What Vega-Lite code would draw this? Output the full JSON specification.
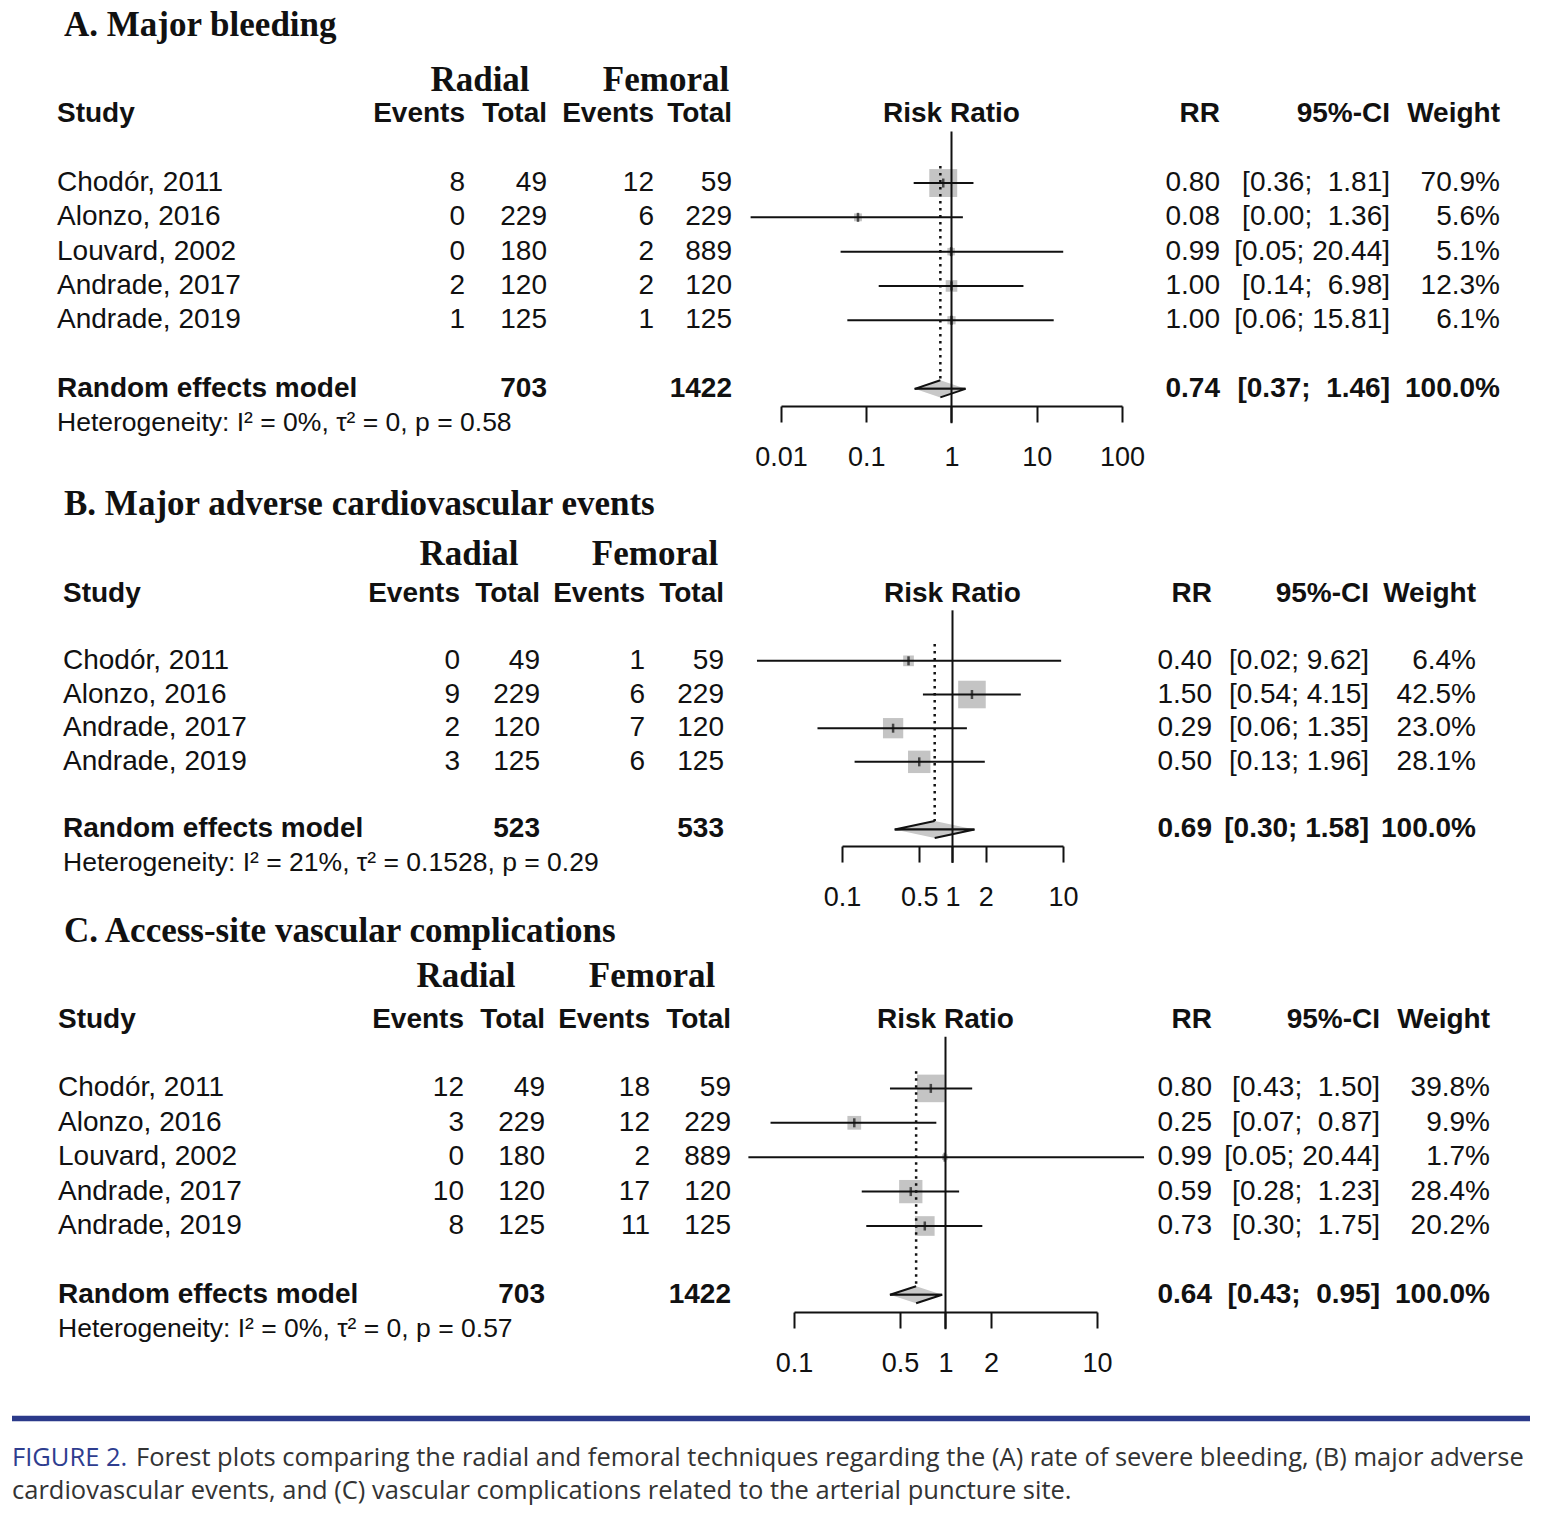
{
"$schema": "https://vega.github.io/schema/vega-lite/v6.json",
"background": "white",
"padding": {"left": 0, "top": 8, "right": 0, "bottom": 0},
"config": {
  "view": {"stroke": null},
  "text": {"font": "Liberation Sans", "fontSize": 28, "color": "#111"},
  "title": {"font": "Liberation Serif", "fontSize": 35, "fontWeight": "bold", "color": "#111", "anchor": "start"},
  "axisX": {"domainColor": "#111", "domainWidth": 2, "tickColor": "#111", "tickWidth": 2, "tickSize": 16, "labelFont": "Liberation Sans", "labelFontSize": 27, "labelColor": "#111", "labelPadding": 22, "grid": false, "labelOverlap": false, "labelFlush": false, "labelBound": false}
},
"datasets": {
  "bleed": [
    {"line": "Chodór, 2011", "ev_r": 8, "n_r": 49, "ev_f": 12, "n_f": 59, "rr": 0.80, "lo": 0.36, "hi": 1.81, "w": 0.709},
    {"line": "Alonzo, 2016", "ev_r": 0, "n_r": 229, "ev_f": 6, "n_f": 229, "rr": 0.08, "lo": 0.0044, "hi": 1.36, "w": 0.056},
    {"line": "Louvard, 2002", "ev_r": 0, "n_r": 180, "ev_f": 2, "n_f": 889, "rr": 0.99, "lo": 0.05, "hi": 20.44, "w": 0.051},
    {"line": "Andrade, 2017", "ev_r": 2, "n_r": 120, "ev_f": 2, "n_f": 120, "rr": 1.00, "lo": 0.14, "hi": 6.98, "w": 0.123},
    {"line": "Andrade, 2019", "ev_r": 1, "n_r": 125, "ev_f": 1, "n_f": 125, "rr": 1.00, "lo": 0.06, "hi": 15.81, "w": 0.061}
  ],
  "bleed_re": [{"line": "Random effects model", "n_r": 703, "n_f": 1422, "rr": 0.74, "lo": 0.37, "hi": 1.46, "w": 1.0}],
  "mace": [
    {"line": "Chodór, 2011", "ev_r": 0, "n_r": 49, "ev_f": 1, "n_f": 59, "rr": 0.40, "lo": 0.017, "hi": 9.62, "w": 0.064},
    {"line": "Alonzo, 2016", "ev_r": 9, "n_r": 229, "ev_f": 6, "n_f": 229, "rr": 1.50, "lo": 0.54, "hi": 4.15, "w": 0.425},
    {"line": "Andrade, 2017", "ev_r": 2, "n_r": 120, "ev_f": 7, "n_f": 120, "rr": 0.29, "lo": 0.06, "hi": 1.35, "w": 0.230},
    {"line": "Andrade, 2019", "ev_r": 3, "n_r": 125, "ev_f": 6, "n_f": 125, "rr": 0.50, "lo": 0.13, "hi": 1.96, "w": 0.281}
  ],
  "mace_re": [{"line": "Random effects model", "n_r": 523, "n_f": 533, "rr": 0.69, "lo": 0.30, "hi": 1.58, "w": 1.0}],
  "site": [
    {"line": "Chodór, 2011", "ev_r": 12, "n_r": 49, "ev_f": 18, "n_f": 59, "rr": 0.80, "lo": 0.43, "hi": 1.50, "w": 0.398},
    {"line": "Alonzo, 2016", "ev_r": 3, "n_r": 229, "ev_f": 12, "n_f": 229, "rr": 0.25, "lo": 0.07, "hi": 0.87, "w": 0.099},
    {"line": "Louvard, 2002", "ev_r": 0, "n_r": 180, "ev_f": 2, "n_f": 889, "rr": 0.99, "lo": 0.05, "hi": 20.44, "w": 0.017},
    {"line": "Andrade, 2017", "ev_r": 10, "n_r": 120, "ev_f": 17, "n_f": 120, "rr": 0.59, "lo": 0.28, "hi": 1.23, "w": 0.284},
    {"line": "Andrade, 2019", "ev_r": 8, "n_r": 125, "ev_f": 11, "n_f": 125, "rr": 0.73, "lo": 0.30, "hi": 1.75, "w": 0.202}
  ],
  "site_re": [{"line": "Random effects model", "n_r": 703, "n_f": 1422, "rr": 0.64, "lo": 0.43, "hi": 0.95, "w": 1.0}]
},
"resolve": {"scale": {"x": "independent", "y": "independent", "size": "independent"}},
"spacing": 16,
"vconcat": [
{
  "title": {"text": "A. Major bleeding", "anchor": "start", "dx": 64, "offset": 20},
  "spacing": 0, "bounds": "flush",
  "resolve": {"scale": {"x": "independent", "y": "independent", "size": "independent"}},
  "hconcat": [
    {"width": 57, "height": 377.3, "data": {"values": []}, "mark": "point"},
    {"width": 313, "height": 377.3,
     "encoding": {"y": {"field": "line", "type": "nominal", "axis": null, "scale": {"domain": ["group","head","blank","Chodór, 2011","Alonzo, 2016","Louvard, 2002","Andrade, 2017","Andrade, 2019","gap","Random effects model","het"], "paddingInner": 0, "paddingOuter": 0}}, "x": {"value": 0}},
     "layer": [
       {"data": {"values": [{"line": "head", "t": "Study"}]}, "mark": {"type": "text", "align": "left", "fontWeight": "bold"}, "encoding": {"text": {"field": "t", "type": "nominal"}}},
       {"data": {"name": "bleed"}, "mark": {"type": "text", "align": "left"}, "encoding": {"text": {"field": "line", "type": "nominal"}}},
       {"data": {"name": "bleed_re"}, "mark": {"type": "text", "align": "left", "fontWeight": "bold"}, "encoding": {"text": {"field": "line", "type": "nominal"}}},
       {"data": {"values": [{"line": "het", "t": "Heterogeneity: I² = 0%, τ² = 0, p = 0.58"}]}, "mark": {"type": "text", "align": "left", "fontSize": 26.5}, "encoding": {"text": {"field": "t", "type": "nominal"}}}
     ]},
    {"width": 95, "height": 377.3,
     "encoding": {"y": {"field": "line", "type": "nominal", "axis": null, "scale": {"domain": ["group","head","blank","Chodór, 2011","Alonzo, 2016","Louvard, 2002","Andrade, 2017","Andrade, 2019","gap","Random effects model","het"], "paddingInner": 0, "paddingOuter": 0}}, "x": {"value": "width"}},
     "layer": [
       {"data": {"values": [{"line": "head", "t": "Events"}]}, "mark": {"type": "text", "align": "right", "fontWeight": "bold"}, "encoding": {"text": {"field": "t", "type": "nominal"}}},
       {"data": {"name": "bleed"}, "mark": {"type": "text", "align": "right"}, "encoding": {"text": {"field": "ev_r", "type": "quantitative", "format": "d"}}}
     ]},
    {"width": 82, "height": 377.3,
     "encoding": {"y": {"field": "line", "type": "nominal", "axis": null, "scale": {"domain": ["group","head","blank","Chodór, 2011","Alonzo, 2016","Louvard, 2002","Andrade, 2017","Andrade, 2019","gap","Random effects model","het"], "paddingInner": 0, "paddingOuter": 0}}, "x": {"value": "width"}},
     "layer": [
       {"data": {"values": [{"line": "group", "t": "Radial"}]}, "mark": {"type": "text", "align": "center", "font": "Liberation Serif", "fontSize": 35, "fontWeight": "bold", "dx": 15}, "encoding": {"x": {"value": 0}, "text": {"field": "t", "type": "nominal"}}},
       {"data": {"values": [{"line": "head", "t": "Total"}]}, "mark": {"type": "text", "align": "right", "fontWeight": "bold"}, "encoding": {"text": {"field": "t", "type": "nominal"}}},
       {"data": {"name": "bleed"}, "mark": {"type": "text", "align": "right"}, "encoding": {"text": {"field": "n_r", "type": "quantitative", "format": "d"}}},
       {"data": {"name": "bleed_re"}, "mark": {"type": "text", "align": "right", "fontWeight": "bold"}, "encoding": {"text": {"field": "n_r", "type": "quantitative", "format": "d"}}}
     ]},
    {"width": 107, "height": 377.3,
     "encoding": {"y": {"field": "line", "type": "nominal", "axis": null, "scale": {"domain": ["group","head","blank","Chodór, 2011","Alonzo, 2016","Louvard, 2002","Andrade, 2017","Andrade, 2019","gap","Random effects model","het"], "paddingInner": 0, "paddingOuter": 0}}, "x": {"value": "width"}},
     "layer": [
       {"data": {"values": [{"line": "head", "t": "Events"}]}, "mark": {"type": "text", "align": "right", "fontWeight": "bold"}, "encoding": {"text": {"field": "t", "type": "nominal"}}},
       {"data": {"name": "bleed"}, "mark": {"type": "text", "align": "right"}, "encoding": {"text": {"field": "ev_f", "type": "quantitative", "format": "d"}}}
     ]},
    {"width": 78, "height": 377.3,
     "encoding": {"y": {"field": "line", "type": "nominal", "axis": null, "scale": {"domain": ["group","head","blank","Chodór, 2011","Alonzo, 2016","Louvard, 2002","Andrade, 2017","Andrade, 2019","gap","Random effects model","het"], "paddingInner": 0, "paddingOuter": 0}}, "x": {"value": "width"}},
     "layer": [
       {"data": {"values": [{"line": "group", "t": "Femoral"}]}, "mark": {"type": "text", "align": "center", "font": "Liberation Serif", "fontSize": 35, "fontWeight": "bold", "dx": 12}, "encoding": {"x": {"value": 0}, "text": {"field": "t", "type": "nominal"}}},
       {"data": {"values": [{"line": "head", "t": "Total"}]}, "mark": {"type": "text", "align": "right", "fontWeight": "bold"}, "encoding": {"text": {"field": "t", "type": "nominal"}}},
       {"data": {"name": "bleed"}, "mark": {"type": "text", "align": "right"}, "encoding": {"text": {"field": "n_f", "type": "quantitative", "format": "d"}}},
       {"data": {"name": "bleed_re"}, "mark": {"type": "text", "align": "right", "fontWeight": "bold"}, "encoding": {"text": {"field": "n_f", "type": "quantitative", "format": "d"}}}
     ]},
    {"width": 49, "height": 377.3, "data": {"values": []}, "mark": "point"},
    {"width": 341, "height": 377.3,
     "encoding": {"y": {"field": "line", "type": "nominal", "axis": null, "scale": {"domain": ["group","head","blank","Chodór, 2011","Alonzo, 2016","Louvard, 2002","Andrade, 2017","Andrade, 2019","gap","Random effects model","het"], "paddingInner": 0, "paddingOuter": 0}}},
     "layer": [
       {"data": {"values": [{"line": "head", "t": "Risk Ratio"}]}, "mark": {"type": "text", "align": "center", "fontWeight": "bold"}, "encoding": {"text": {"field": "t", "type": "nominal"}}},
       {"data": {"name": "bleed"}, "mark": {"type": "point", "shape": "square", "filled": true, "color": "#c4c4c4", "opacity": 1},
        "encoding": {"x": {"field": "rr", "type": "quantitative", "scale": {"type": "log", "domain": [0.01, 100]}, "axis": {"values": [0.01, 0.1, 1, 10, 100], "format": "~g", "title": null, "offset": -34.3}},
                     "size": {"field": "w", "type": "quantitative", "scale": {"zero": true, "range": [0, 780]}, "legend": null}}},
       {"data": {"name": "bleed"}, "mark": {"type": "rule", "color": "#111", "strokeWidth": 2},
        "encoding": {"x": {"field": "lo", "type": "quantitative", "scale": {"type": "log", "domain": [0.01, 100]}, "axis": {"values": [0.01, 0.1, 1, 10, 100], "format": "~g", "title": null, "offset": -34.3}}, "x2": {"field": "hi"}}},
       {"data": {"name": "bleed_re"}, "mark": {"type": "rule", "color": "#111", "strokeWidth": 2.5, "strokeDash": [2.5, 4.5]},
        "encoding": {"x": {"field": "rr", "type": "quantitative", "scale": {"type": "log", "domain": [0.01, 100]}, "axis": {"values": [0.01, 0.1, 1, 10, 100], "format": "~g", "title": null, "offset": -34.3}},
                     "y": {"datum": "Chodór, 2011", "type": "nominal", "bandPosition": 0, "axis": null, "scale": {"domain": ["group","head","blank","Chodór, 2011","Alonzo, 2016","Louvard, 2002","Andrade, 2017","Andrade, 2019","gap","Random effects model","het"], "paddingInner": 0, "paddingOuter": 0}},
                     "y2": {"field": "line"}}},
       {"data": {"name": "bleed_re"}, "transform": [{"fold": ["lo", "rr", "hi"], "as": ["k", "v"]}, {"calculate": "datum.k === 'rr' ? 'top' : 'mid'", "as": "h"}],
        "mark": {"type": "line", "filled": true, "fill": "#c8c8c8", "stroke": "#111", "strokeWidth": 2, "strokeJoin": "miter"},
        "encoding": {"x": {"field": "v", "type": "quantitative", "scale": {"type": "log", "domain": [0.01, 100]}, "axis": {"values": [0.01, 0.1, 1, 10, 100], "format": "~g", "title": null, "offset": -34.3}},
                     "yOffset": {"field": "h", "type": "nominal", "scale": {"type": "point", "domain": ["top", "mid", "bot"], "range": [8.6, 25.7], "padding": 0}}}},
       {"data": {"name": "bleed_re"}, "transform": [{"fold": ["lo", "rr", "hi"], "as": ["k", "v"]}, {"calculate": "datum.k === 'rr' ? 'bot' : 'mid'", "as": "h"}],
        "mark": {"type": "line", "filled": true, "fill": "#c8c8c8", "stroke": "#111", "strokeWidth": 2, "strokeJoin": "miter"},
        "encoding": {"x": {"field": "v", "type": "quantitative", "scale": {"type": "log", "domain": [0.01, 100]}, "axis": {"values": [0.01, 0.1, 1, 10, 100], "format": "~g", "title": null, "offset": -34.3}},
                     "yOffset": {"field": "h", "type": "nominal", "scale": {"type": "point", "domain": ["top", "mid", "bot"], "range": [8.6, 25.7], "padding": 0}}}},
       {"data": {"values": [{"line": "blank", "ref": 1}]}, "mark": {"type": "rule", "color": "#111", "strokeWidth": 2},
        "encoding": {"x": {"field": "ref", "type": "quantitative", "scale": {"type": "log", "domain": [0.01, 100]}, "axis": {"values": [0.01, 0.1, 1, 10, 100], "format": "~g", "title": null, "offset": -34.3}},
                     "y": {"field": "line", "type": "nominal", "bandPosition": 0, "axis": null, "scale": {"domain": ["group","head","blank","Chodór, 2011","Alonzo, 2016","Louvard, 2002","Andrade, 2017","Andrade, 2019","gap","Random effects model","het"], "paddingInner": 0, "paddingOuter": 0}},
                     "y2": {"datum": "het"}}},
       {"data": {"name": "bleed"}, "mark": {"type": "tick", "color": "#111", "size": 9, "thickness": 2.5},
        "encoding": {"x": {"field": "rr", "type": "quantitative", "scale": {"type": "log", "domain": [0.01, 100]}, "axis": {"values": [0.01, 0.1, 1, 10, 100], "format": "~g", "title": null, "offset": -34.3}}}}
     ]},
    {"width": 98, "height": 377.3,
     "encoding": {"y": {"field": "line", "type": "nominal", "axis": null, "scale": {"domain": ["group","head","blank","Chodór, 2011","Alonzo, 2016","Louvard, 2002","Andrade, 2017","Andrade, 2019","gap","Random effects model","het"], "paddingInner": 0, "paddingOuter": 0}}, "x": {"value": "width"}},
     "layer": [
       {"data": {"values": [{"line": "head", "t": "RR"}]}, "mark": {"type": "text", "align": "right", "fontWeight": "bold"}, "encoding": {"text": {"field": "t", "type": "nominal"}}},
       {"data": {"name": "bleed"}, "mark": {"type": "text", "align": "right"}, "encoding": {"text": {"field": "rr", "type": "quantitative", "format": ".2f"}}},
       {"data": {"name": "bleed_re"}, "mark": {"type": "text", "align": "right", "fontWeight": "bold"}, "encoding": {"text": {"field": "rr", "type": "quantitative", "format": ".2f"}}}
     ]},
    {"width": 170, "height": 377.3,
     "encoding": {"y": {"field": "line", "type": "nominal", "axis": null, "scale": {"domain": ["group","head","blank","Chodór, 2011","Alonzo, 2016","Louvard, 2002","Andrade, 2017","Andrade, 2019","gap","Random effects model","het"], "paddingInner": 0, "paddingOuter": 0}}, "x": {"value": "width"}},
     "layer": [
       {"data": {"values": [{"line": "head", "t": "95%-CI"}]}, "mark": {"type": "text", "align": "right", "fontWeight": "bold"}, "encoding": {"text": {"field": "t", "type": "nominal"}}},
       {"data": {"name": "bleed"}, "transform": [{"calculate": "'[' + format(datum.lo, '.2f') + '; ' + pad(format(datum.hi, '.2f'), 5, '\u00a0', 'left') + ']'", "as": "ci"}], "mark": {"type": "text", "align": "right"}, "encoding": {"text": {"field": "ci", "type": "nominal"}}},
       {"data": {"name": "bleed_re"}, "transform": [{"calculate": "'[' + format(datum.lo, '.2f') + '; ' + pad(format(datum.hi, '.2f'), 5, '\u00a0', 'left') + ']'", "as": "ci"}], "mark": {"type": "text", "align": "right", "fontWeight": "bold"}, "encoding": {"text": {"field": "ci", "type": "nominal"}}}
     ]},
    {"width": 110, "height": 377.3,
     "encoding": {"y": {"field": "line", "type": "nominal", "axis": null, "scale": {"domain": ["group","head","blank","Chodór, 2011","Alonzo, 2016","Louvard, 2002","Andrade, 2017","Andrade, 2019","gap","Random effects model","het"], "paddingInner": 0, "paddingOuter": 0}}, "x": {"value": "width"}},
     "layer": [
       {"data": {"values": [{"line": "head", "t": "Weight"}]}, "mark": {"type": "text", "align": "right", "fontWeight": "bold"}, "encoding": {"text": {"field": "t", "type": "nominal"}}},
       {"data": {"name": "bleed"}, "mark": {"type": "text", "align": "right"}, "encoding": {"text": {"field": "w", "type": "quantitative", "format": ".1%"}}},
       {"data": {"name": "bleed_re"}, "mark": {"type": "text", "align": "right", "fontWeight": "bold"}, "encoding": {"text": {"field": "w", "type": "quantitative", "format": ".1%"}}}
     ]}
  ]
},
{
 "spacing": 3,
 "resolve": {"scale": {"x": "independent", "y": "independent", "size": "independent"}},
 "vconcat": [
 {
  "title": {"text": "B. Major adverse cardiovascular events", "anchor": "start", "dx": 64, "offset": 15},
  "spacing": 0, "bounds": "flush",
  "resolve": {"scale": {"x": "independent", "y": "independent", "size": "independent"}},
  "hconcat": [
    {"width": 63, "height": 336.7, "data": {"values": []}, "mark": "point"},
    {"width": 307, "height": 336.7,
     "encoding": {"y": {"field": "line", "type": "nominal", "axis": null, "scale": {"domain": ["group","head","blank","Chodór, 2011","Alonzo, 2016","Andrade, 2017","Andrade, 2019","gap","Random effects model","het"], "paddingInner": 0, "paddingOuter": 0}}, "x": {"value": 0}},
     "layer": [
       {"data": {"values": [{"line": "head", "t": "Study"}]}, "mark": {"type": "text", "align": "left", "fontWeight": "bold"}, "encoding": {"text": {"field": "t", "type": "nominal"}}},
       {"data": {"name": "mace"}, "mark": {"type": "text", "align": "left"}, "encoding": {"text": {"field": "line", "type": "nominal"}}},
       {"data": {"name": "mace_re"}, "mark": {"type": "text", "align": "left", "fontWeight": "bold"}, "encoding": {"text": {"field": "line", "type": "nominal"}}},
       {"data": {"values": [{"line": "het", "t": "Heterogeneity: I² = 21%, τ² = 0.1528, p = 0.29"}]}, "mark": {"type": "text", "align": "left", "fontSize": 26.5}, "encoding": {"text": {"field": "t", "type": "nominal"}}}
     ]},
    {"width": 90, "height": 336.7,
     "encoding": {"y": {"field": "line", "type": "nominal", "axis": null, "scale": {"domain": ["group","head","blank","Chodór, 2011","Alonzo, 2016","Andrade, 2017","Andrade, 2019","gap","Random effects model","het"], "paddingInner": 0, "paddingOuter": 0}}, "x": {"value": "width"}},
     "layer": [
       {"data": {"values": [{"line": "head", "t": "Events"}]}, "mark": {"type": "text", "align": "right", "fontWeight": "bold"}, "encoding": {"text": {"field": "t", "type": "nominal"}}},
       {"data": {"name": "mace"}, "mark": {"type": "text", "align": "right"}, "encoding": {"text": {"field": "ev_r", "type": "quantitative", "format": "d"}}}
     ]},
    {"width": 80, "height": 336.7,
     "encoding": {"y": {"field": "line", "type": "nominal", "axis": null, "scale": {"domain": ["group","head","blank","Chodór, 2011","Alonzo, 2016","Andrade, 2017","Andrade, 2019","gap","Random effects model","het"], "paddingInner": 0, "paddingOuter": 0}}, "x": {"value": "width"}},
     "layer": [
       {"data": {"values": [{"line": "group", "t": "Radial"}]}, "mark": {"type": "text", "align": "center", "font": "Liberation Serif", "fontSize": 35, "fontWeight": "bold", "dx": 9, "dy": -6}, "encoding": {"x": {"value": 0}, "text": {"field": "t", "type": "nominal"}}},
       {"data": {"values": [{"line": "head", "t": "Total"}]}, "mark": {"type": "text", "align": "right", "fontWeight": "bold"}, "encoding": {"text": {"field": "t", "type": "nominal"}}},
       {"data": {"name": "mace"}, "mark": {"type": "text", "align": "right"}, "encoding": {"text": {"field": "n_r", "type": "quantitative", "format": "d"}}},
       {"data": {"name": "mace_re"}, "mark": {"type": "text", "align": "right", "fontWeight": "bold"}, "encoding": {"text": {"field": "n_r", "type": "quantitative", "format": "d"}}}
     ]},
    {"width": 105, "height": 336.7,
     "encoding": {"y": {"field": "line", "type": "nominal", "axis": null, "scale": {"domain": ["group","head","blank","Chodór, 2011","Alonzo, 2016","Andrade, 2017","Andrade, 2019","gap","Random effects model","het"], "paddingInner": 0, "paddingOuter": 0}}, "x": {"value": "width"}},
     "layer": [
       {"data": {"values": [{"line": "head", "t": "Events"}]}, "mark": {"type": "text", "align": "right", "fontWeight": "bold"}, "encoding": {"text": {"field": "t", "type": "nominal"}}},
       {"data": {"name": "mace"}, "mark": {"type": "text", "align": "right"}, "encoding": {"text": {"field": "ev_f", "type": "quantitative", "format": "d"}}}
     ]},
    {"width": 79, "height": 336.7,
     "encoding": {"y": {"field": "line", "type": "nominal", "axis": null, "scale": {"domain": ["group","head","blank","Chodór, 2011","Alonzo, 2016","Andrade, 2017","Andrade, 2019","gap","Random effects model","het"], "paddingInner": 0, "paddingOuter": 0}}, "x": {"value": "width"}},
     "layer": [
       {"data": {"values": [{"line": "group", "t": "Femoral"}]}, "mark": {"type": "text", "align": "center", "font": "Liberation Serif", "fontSize": 35, "fontWeight": "bold", "dx": 10, "dy": -6}, "encoding": {"x": {"value": 0}, "text": {"field": "t", "type": "nominal"}}},
       {"data": {"values": [{"line": "head", "t": "Total"}]}, "mark": {"type": "text", "align": "right", "fontWeight": "bold"}, "encoding": {"text": {"field": "t", "type": "nominal"}}},
       {"data": {"name": "mace"}, "mark": {"type": "text", "align": "right"}, "encoding": {"text": {"field": "n_f", "type": "quantitative", "format": "d"}}},
       {"data": {"name": "mace_re"}, "mark": {"type": "text", "align": "right", "fontWeight": "bold"}, "encoding": {"text": {"field": "n_f", "type": "quantitative", "format": "d"}}}
     ]},
    {"width": 118, "height": 336.7, "data": {"values": []}, "mark": "point"},
    {"width": 221, "height": 336.7,
     "encoding": {"y": {"field": "line", "type": "nominal", "axis": null, "scale": {"domain": ["group","head","blank","Chodór, 2011","Alonzo, 2016","Andrade, 2017","Andrade, 2019","gap","Random effects model","het"], "paddingInner": 0, "paddingOuter": 0}}},
     "layer": [
       {"data": {"values": [{"line": "head", "t": "Risk Ratio"}]}, "mark": {"type": "text", "align": "center", "fontWeight": "bold"}, "encoding": {"text": {"field": "t", "type": "nominal"}}},
       {"data": {"name": "mace"}, "mark": {"type": "point", "shape": "square", "filled": true, "color": "#c4c4c4", "opacity": 1},
        "encoding": {"x": {"field": "rr", "type": "quantitative", "scale": {"type": "log", "domain": [0.1, 10]}, "axis": {"values": [0.1, 0.5, 1, 2, 10], "format": "~g", "title": null, "offset": -33.67}},
                     "size": {"field": "w", "type": "quantitative", "scale": {"zero": true, "range": [0, 760]}, "legend": null}}},
       {"data": {"name": "mace"}, "mark": {"type": "rule", "color": "#111", "strokeWidth": 2},
        "encoding": {"x": {"field": "lo", "type": "quantitative", "scale": {"type": "log", "domain": [0.1, 10]}, "axis": {"values": [0.1, 0.5, 1, 2, 10], "format": "~g", "title": null, "offset": -33.67}}, "x2": {"field": "hi"}}},
       {"data": {"name": "mace_re"}, "mark": {"type": "rule", "color": "#111", "strokeWidth": 2.5, "strokeDash": [2.5, 4.5]},
        "encoding": {"x": {"field": "rr", "type": "quantitative", "scale": {"type": "log", "domain": [0.1, 10]}, "axis": {"values": [0.1, 0.5, 1, 2, 10], "format": "~g", "title": null, "offset": -33.67}},
                     "y": {"datum": "Chodór, 2011", "type": "nominal", "bandPosition": 0, "axis": null, "scale": {"domain": ["group","head","blank","Chodór, 2011","Alonzo, 2016","Andrade, 2017","Andrade, 2019","gap","Random effects model","het"], "paddingInner": 0, "paddingOuter": 0}},
                     "y2": {"field": "line"}}},
       {"data": {"name": "mace_re"}, "transform": [{"fold": ["lo", "rr", "hi"], "as": ["k", "v"]}, {"calculate": "datum.k === 'rr' ? 'top' : 'mid'", "as": "h"}],
        "mark": {"type": "line", "filled": true, "fill": "#c8c8c8", "stroke": "#111", "strokeWidth": 2, "strokeJoin": "miter"},
        "encoding": {"x": {"field": "v", "type": "quantitative", "scale": {"type": "log", "domain": [0.1, 10]}, "axis": {"values": [0.1, 0.5, 1, 2, 10], "format": "~g", "title": null, "offset": -33.67}},
                     "yOffset": {"field": "h", "type": "nominal", "scale": {"type": "point", "domain": ["top", "mid", "bot"], "range": [8.4, 25.3], "padding": 0}}}},
       {"data": {"name": "mace_re"}, "transform": [{"fold": ["lo", "rr", "hi"], "as": ["k", "v"]}, {"calculate": "datum.k === 'rr' ? 'bot' : 'mid'", "as": "h"}],
        "mark": {"type": "line", "filled": true, "fill": "#c8c8c8", "stroke": "#111", "strokeWidth": 2, "strokeJoin": "miter"},
        "encoding": {"x": {"field": "v", "type": "quantitative", "scale": {"type": "log", "domain": [0.1, 10]}, "axis": {"values": [0.1, 0.5, 1, 2, 10], "format": "~g", "title": null, "offset": -33.67}},
                     "yOffset": {"field": "h", "type": "nominal", "scale": {"type": "point", "domain": ["top", "mid", "bot"], "range": [8.4, 25.3], "padding": 0}}}},
       {"data": {"values": [{"line": "blank", "ref": 1}]}, "mark": {"type": "rule", "color": "#111", "strokeWidth": 2},
        "encoding": {"x": {"field": "ref", "type": "quantitative", "scale": {"type": "log", "domain": [0.1, 10]}, "axis": {"values": [0.1, 0.5, 1, 2, 10], "format": "~g", "title": null, "offset": -33.67}},
                     "y": {"field": "line", "type": "nominal", "bandPosition": 0, "axis": null, "scale": {"domain": ["group","head","blank","Chodór, 2011","Alonzo, 2016","Andrade, 2017","Andrade, 2019","gap","Random effects model","het"], "paddingInner": 0, "paddingOuter": 0}},
                     "y2": {"datum": "het"}}},
       {"data": {"name": "mace"}, "mark": {"type": "tick", "color": "#111", "size": 9, "thickness": 2.5},
        "encoding": {"x": {"field": "rr", "type": "quantitative", "scale": {"type": "log", "domain": [0.1, 10]}, "axis": {"values": [0.1, 0.5, 1, 2, 10], "format": "~g", "title": null, "offset": -33.67}}}}
     ]},
    {"width": 149, "height": 336.7,
     "encoding": {"y": {"field": "line", "type": "nominal", "axis": null, "scale": {"domain": ["group","head","blank","Chodór, 2011","Alonzo, 2016","Andrade, 2017","Andrade, 2019","gap","Random effects model","het"], "paddingInner": 0, "paddingOuter": 0}}, "x": {"value": "width"}},
     "layer": [
       {"data": {"values": [{"line": "head", "t": "RR"}]}, "mark": {"type": "text", "align": "right", "fontWeight": "bold"}, "encoding": {"text": {"field": "t", "type": "nominal"}}},
       {"data": {"name": "mace"}, "mark": {"type": "text", "align": "right"}, "encoding": {"text": {"field": "rr", "type": "quantitative", "format": ".2f"}}},
       {"data": {"name": "mace_re"}, "mark": {"type": "text", "align": "right", "fontWeight": "bold"}, "encoding": {"text": {"field": "rr", "type": "quantitative", "format": ".2f"}}}
     ]},
    {"width": 157, "height": 336.7,
     "encoding": {"y": {"field": "line", "type": "nominal", "axis": null, "scale": {"domain": ["group","head","blank","Chodór, 2011","Alonzo, 2016","Andrade, 2017","Andrade, 2019","gap","Random effects model","het"], "paddingInner": 0, "paddingOuter": 0}}, "x": {"value": "width"}},
     "layer": [
       {"data": {"values": [{"line": "head", "t": "95%-CI"}]}, "mark": {"type": "text", "align": "right", "fontWeight": "bold"}, "encoding": {"text": {"field": "t", "type": "nominal"}}},
       {"data": {"name": "mace"}, "transform": [{"calculate": "'[' + format(datum.lo, '.2f') + '; ' + format(datum.hi, '.2f') + ']'", "as": "ci"}], "mark": {"type": "text", "align": "right"}, "encoding": {"text": {"field": "ci", "type": "nominal"}}},
       {"data": {"name": "mace_re"}, "transform": [{"calculate": "'[' + format(datum.lo, '.2f') + '; ' + format(datum.hi, '.2f') + ']'", "as": "ci"}], "mark": {"type": "text", "align": "right", "fontWeight": "bold"}, "encoding": {"text": {"field": "ci", "type": "nominal"}}}
     ]},
    {"width": 107, "height": 336.7,
     "encoding": {"y": {"field": "line", "type": "nominal", "axis": null, "scale": {"domain": ["group","head","blank","Chodór, 2011","Alonzo, 2016","Andrade, 2017","Andrade, 2019","gap","Random effects model","het"], "paddingInner": 0, "paddingOuter": 0}}, "x": {"value": "width"}},
     "layer": [
       {"data": {"values": [{"line": "head", "t": "Weight"}]}, "mark": {"type": "text", "align": "right", "fontWeight": "bold"}, "encoding": {"text": {"field": "t", "type": "nominal"}}},
       {"data": {"name": "mace"}, "mark": {"type": "text", "align": "right"}, "encoding": {"text": {"field": "w", "type": "quantitative", "format": ".1%"}}},
       {"data": {"name": "mace_re"}, "mark": {"type": "text", "align": "right", "fontWeight": "bold"}, "encoding": {"text": {"field": "w", "type": "quantitative", "format": ".1%"}}}
     ]}
  ]
 },
 {
  "spacing": 24.6,
  "resolve": {"scale": {"x": "independent", "y": "independent", "size": "independent"}},
  "vconcat": [
  {
   "title": {"text": "C. Access-site vascular complications", "anchor": "start", "dx": 64, "offset": 10},
   "spacing": 0, "bounds": "flush",
   "resolve": {"scale": {"x": "independent", "y": "independent", "size": "independent"}},
   "hconcat": [
    {"width": 58, "height": 378.4, "data": {"values": []}, "mark": "point"},
    {"width": 312, "height": 378.4,
     "encoding": {"y": {"field": "line", "type": "nominal", "axis": null, "scale": {"domain": ["group","head","blank","Chodór, 2011","Alonzo, 2016","Louvard, 2002","Andrade, 2017","Andrade, 2019","gap","Random effects model","het"], "paddingInner": 0, "paddingOuter": 0}}, "x": {"value": 0}},
     "layer": [
       {"data": {"values": [{"line": "head", "t": "Study"}]}, "mark": {"type": "text", "align": "left", "fontWeight": "bold"}, "encoding": {"text": {"field": "t", "type": "nominal"}}},
       {"data": {"name": "site"}, "mark": {"type": "text", "align": "left"}, "encoding": {"text": {"field": "line", "type": "nominal"}}},
       {"data": {"name": "site_re"}, "mark": {"type": "text", "align": "left", "fontWeight": "bold"}, "encoding": {"text": {"field": "line", "type": "nominal"}}},
       {"data": {"values": [{"line": "het", "t": "Heterogeneity: I² = 0%, τ² = 0, p = 0.57"}]}, "mark": {"type": "text", "align": "left", "fontSize": 26.5}, "encoding": {"text": {"field": "t", "type": "nominal"}}}
     ]},
    {"width": 94, "height": 378.4,
     "encoding": {"y": {"field": "line", "type": "nominal", "axis": null, "scale": {"domain": ["group","head","blank","Chodór, 2011","Alonzo, 2016","Louvard, 2002","Andrade, 2017","Andrade, 2019","gap","Random effects model","het"], "paddingInner": 0, "paddingOuter": 0}}, "x": {"value": "width"}},
     "layer": [
       {"data": {"values": [{"line": "head", "t": "Events"}]}, "mark": {"type": "text", "align": "right", "fontWeight": "bold"}, "encoding": {"text": {"field": "t", "type": "nominal"}}},
       {"data": {"name": "site"}, "mark": {"type": "text", "align": "right"}, "encoding": {"text": {"field": "ev_r", "type": "quantitative", "format": "d"}}}
     ]},
    {"width": 81, "height": 378.4,
     "encoding": {"y": {"field": "line", "type": "nominal", "axis": null, "scale": {"domain": ["group","head","blank","Chodór, 2011","Alonzo, 2016","Louvard, 2002","Andrade, 2017","Andrade, 2019","gap","Random effects model","het"], "paddingInner": 0, "paddingOuter": 0}}, "x": {"value": "width"}},
     "layer": [
       {"data": {"values": [{"line": "group", "t": "Radial"}]}, "mark": {"type": "text", "align": "center", "font": "Liberation Serif", "fontSize": 35, "fontWeight": "bold", "dx": 2, "dy": -9}, "encoding": {"x": {"value": 0}, "text": {"field": "t", "type": "nominal"}}},
       {"data": {"values": [{"line": "head", "t": "Total"}]}, "mark": {"type": "text", "align": "right", "fontWeight": "bold"}, "encoding": {"text": {"field": "t", "type": "nominal"}}},
       {"data": {"name": "site"}, "mark": {"type": "text", "align": "right"}, "encoding": {"text": {"field": "n_r", "type": "quantitative", "format": "d"}}},
       {"data": {"name": "site_re"}, "mark": {"type": "text", "align": "right", "fontWeight": "bold"}, "encoding": {"text": {"field": "n_r", "type": "quantitative", "format": "d"}}}
     ]},
    {"width": 105, "height": 378.4,
     "encoding": {"y": {"field": "line", "type": "nominal", "axis": null, "scale": {"domain": ["group","head","blank","Chodór, 2011","Alonzo, 2016","Louvard, 2002","Andrade, 2017","Andrade, 2019","gap","Random effects model","het"], "paddingInner": 0, "paddingOuter": 0}}, "x": {"value": "width"}},
     "layer": [
       {"data": {"values": [{"line": "head", "t": "Events"}]}, "mark": {"type": "text", "align": "right", "fontWeight": "bold"}, "encoding": {"text": {"field": "t", "type": "nominal"}}},
       {"data": {"name": "site"}, "mark": {"type": "text", "align": "right"}, "encoding": {"text": {"field": "ev_f", "type": "quantitative", "format": "d"}}}
     ]},
    {"width": 81, "height": 378.4,
     "encoding": {"y": {"field": "line", "type": "nominal", "axis": null, "scale": {"domain": ["group","head","blank","Chodór, 2011","Alonzo, 2016","Louvard, 2002","Andrade, 2017","Andrade, 2019","gap","Random effects model","het"], "paddingInner": 0, "paddingOuter": 0}}, "x": {"value": "width"}},
     "layer": [
       {"data": {"values": [{"line": "group", "t": "Femoral"}]}, "mark": {"type": "text", "align": "center", "font": "Liberation Serif", "fontSize": 35, "fontWeight": "bold", "dx": 2, "dy": -9}, "encoding": {"x": {"value": 0}, "text": {"field": "t", "type": "nominal"}}},
       {"data": {"values": [{"line": "head", "t": "Total"}]}, "mark": {"type": "text", "align": "right", "fontWeight": "bold"}, "encoding": {"text": {"field": "t", "type": "nominal"}}},
       {"data": {"name": "site"}, "mark": {"type": "text", "align": "right"}, "encoding": {"text": {"field": "n_f", "type": "quantitative", "format": "d"}}},
       {"data": {"name": "site_re"}, "mark": {"type": "text", "align": "right", "fontWeight": "bold"}, "encoding": {"text": {"field": "n_f", "type": "quantitative", "format": "d"}}}
     ]},
    {"width": 63, "height": 378.4, "data": {"values": []}, "mark": "point"},
    {"width": 303, "height": 378.4,
     "encoding": {"y": {"field": "line", "type": "nominal", "axis": null, "scale": {"domain": ["group","head","blank","Chodór, 2011","Alonzo, 2016","Louvard, 2002","Andrade, 2017","Andrade, 2019","gap","Random effects model","het"], "paddingInner": 0, "paddingOuter": 0}}},
     "layer": [
       {"data": {"values": [{"line": "head", "t": "Risk Ratio"}]}, "mark": {"type": "text", "align": "center", "fontWeight": "bold"}, "encoding": {"text": {"field": "t", "type": "nominal"}}},
       {"data": {"name": "site"}, "mark": {"type": "point", "shape": "square", "filled": true, "color": "#c4c4c4", "opacity": 1},
        "encoding": {"x": {"field": "rr", "type": "quantitative", "scale": {"type": "log", "domain": [0.1, 10]}, "axis": {"values": [0.1, 0.5, 1, 2, 10], "format": "~g", "title": null, "offset": -34.4}},
                     "size": {"field": "w", "type": "quantitative", "scale": {"zero": true, "range": [0, 760]}, "legend": null}}},
       {"data": {"name": "site"}, "mark": {"type": "rule", "color": "#111", "strokeWidth": 2},
        "encoding": {"x": {"field": "lo", "type": "quantitative", "scale": {"type": "log", "domain": [0.1, 10]}, "axis": {"values": [0.1, 0.5, 1, 2, 10], "format": "~g", "title": null, "offset": -34.4}}, "x2": {"field": "hi"}}},
       {"data": {"name": "site_re"}, "mark": {"type": "rule", "color": "#111", "strokeWidth": 2.5, "strokeDash": [2.5, 4.5]},
        "encoding": {"x": {"field": "rr", "type": "quantitative", "scale": {"type": "log", "domain": [0.1, 10]}, "axis": {"values": [0.1, 0.5, 1, 2, 10], "format": "~g", "title": null, "offset": -34.4}},
                     "y": {"datum": "Chodór, 2011", "type": "nominal", "bandPosition": 0, "axis": null, "scale": {"domain": ["group","head","blank","Chodór, 2011","Alonzo, 2016","Louvard, 2002","Andrade, 2017","Andrade, 2019","gap","Random effects model","het"], "paddingInner": 0, "paddingOuter": 0}},
                     "y2": {"field": "line"}}},
       {"data": {"name": "site_re"}, "transform": [{"fold": ["lo", "rr", "hi"], "as": ["k", "v"]}, {"calculate": "datum.k === 'rr' ? 'top' : 'mid'", "as": "h"}],
        "mark": {"type": "line", "filled": true, "fill": "#c8c8c8", "stroke": "#111", "strokeWidth": 2, "strokeJoin": "miter"},
        "encoding": {"x": {"field": "v", "type": "quantitative", "scale": {"type": "log", "domain": [0.1, 10]}, "axis": {"values": [0.1, 0.5, 1, 2, 10], "format": "~g", "title": null, "offset": -34.4}},
                     "yOffset": {"field": "h", "type": "nominal", "scale": {"type": "point", "domain": ["top", "mid", "bot"], "range": [8.6, 25.8], "padding": 0}}}},
       {"data": {"name": "site_re"}, "transform": [{"fold": ["lo", "rr", "hi"], "as": ["k", "v"]}, {"calculate": "datum.k === 'rr' ? 'bot' : 'mid'", "as": "h"}],
        "mark": {"type": "line", "filled": true, "fill": "#c8c8c8", "stroke": "#111", "strokeWidth": 2, "strokeJoin": "miter"},
        "encoding": {"x": {"field": "v", "type": "quantitative", "scale": {"type": "log", "domain": [0.1, 10]}, "axis": {"values": [0.1, 0.5, 1, 2, 10], "format": "~g", "title": null, "offset": -34.4}},
                     "yOffset": {"field": "h", "type": "nominal", "scale": {"type": "point", "domain": ["top", "mid", "bot"], "range": [8.6, 25.8], "padding": 0}}}},
       {"data": {"values": [{"line": "blank", "ref": 1}]}, "mark": {"type": "rule", "color": "#111", "strokeWidth": 2},
        "encoding": {"x": {"field": "ref", "type": "quantitative", "scale": {"type": "log", "domain": [0.1, 10]}, "axis": {"values": [0.1, 0.5, 1, 2, 10], "format": "~g", "title": null, "offset": -34.4}},
                     "y": {"field": "line", "type": "nominal", "bandPosition": 0, "axis": null, "scale": {"domain": ["group","head","blank","Chodór, 2011","Alonzo, 2016","Louvard, 2002","Andrade, 2017","Andrade, 2019","gap","Random effects model","het"], "paddingInner": 0, "paddingOuter": 0}},
                     "y2": {"datum": "het"}}},
       {"data": {"name": "site"}, "mark": {"type": "tick", "color": "#111", "size": 9, "thickness": 2.5},
        "encoding": {"x": {"field": "rr", "type": "quantitative", "scale": {"type": "log", "domain": [0.1, 10]}, "axis": {"values": [0.1, 0.5, 1, 2, 10], "format": "~g", "title": null, "offset": -34.4}}}}
     ]},
    {"width": 115, "height": 378.4,
     "encoding": {"y": {"field": "line", "type": "nominal", "axis": null, "scale": {"domain": ["group","head","blank","Chodór, 2011","Alonzo, 2016","Louvard, 2002","Andrade, 2017","Andrade, 2019","gap","Random effects model","het"], "paddingInner": 0, "paddingOuter": 0}}, "x": {"value": "width"}},
     "layer": [
       {"data": {"values": [{"line": "head", "t": "RR"}]}, "mark": {"type": "text", "align": "right", "fontWeight": "bold"}, "encoding": {"text": {"field": "t", "type": "nominal"}}},
       {"data": {"name": "site"}, "mark": {"type": "text", "align": "right"}, "encoding": {"text": {"field": "rr", "type": "quantitative", "format": ".2f"}}},
       {"data": {"name": "site_re"}, "mark": {"type": "text", "align": "right", "fontWeight": "bold"}, "encoding": {"text": {"field": "rr", "type": "quantitative", "format": ".2f"}}}
     ]},
    {"width": 168, "height": 378.4,
     "encoding": {"y": {"field": "line", "type": "nominal", "axis": null, "scale": {"domain": ["group","head","blank","Chodór, 2011","Alonzo, 2016","Louvard, 2002","Andrade, 2017","Andrade, 2019","gap","Random effects model","het"], "paddingInner": 0, "paddingOuter": 0}}, "x": {"value": "width"}},
     "layer": [
       {"data": {"values": [{"line": "head", "t": "95%-CI"}]}, "mark": {"type": "text", "align": "right", "fontWeight": "bold"}, "encoding": {"text": {"field": "t", "type": "nominal"}}},
       {"data": {"name": "site"}, "transform": [{"calculate": "'[' + format(datum.lo, '.2f') + '; ' + pad(format(datum.hi, '.2f'), 5, '\u00a0', 'left') + ']'", "as": "ci"}], "mark": {"type": "text", "align": "right"}, "encoding": {"text": {"field": "ci", "type": "nominal"}}},
       {"data": {"name": "site_re"}, "transform": [{"calculate": "'[' + format(datum.lo, '.2f') + '; ' + pad(format(datum.hi, '.2f'), 5, '\u00a0', 'left') + ']'", "as": "ci"}], "mark": {"type": "text", "align": "right", "fontWeight": "bold"}, "encoding": {"text": {"field": "ci", "type": "nominal"}}}
     ]},
    {"width": 110, "height": 378.4,
     "encoding": {"y": {"field": "line", "type": "nominal", "axis": null, "scale": {"domain": ["group","head","blank","Chodór, 2011","Alonzo, 2016","Louvard, 2002","Andrade, 2017","Andrade, 2019","gap","Random effects model","het"], "paddingInner": 0, "paddingOuter": 0}}, "x": {"value": "width"}},
     "layer": [
       {"data": {"values": [{"line": "head", "t": "Weight"}]}, "mark": {"type": "text", "align": "right", "fontWeight": "bold"}, "encoding": {"text": {"field": "t", "type": "nominal"}}},
       {"data": {"name": "site"}, "mark": {"type": "text", "align": "right"}, "encoding": {"text": {"field": "w", "type": "quantitative", "format": ".1%"}}},
       {"data": {"name": "site_re"}, "mark": {"type": "text", "align": "right", "fontWeight": "bold"}, "encoding": {"text": {"field": "w", "type": "quantitative", "format": ".1%"}}}
     ]}
   ]
  },
  {
   "spacing": 0, "bounds": "flush",
   "hconcat": [
    {"width": 12, "height": 108, "data": {"values": []}, "mark": "point"},
    {"width": 1518, "height": 108,
     "encoding": {"y": {"field": "line", "type": "nominal", "axis": null, "scale": {"domain": ["rule", "l1", "l2"], "paddingInner": 0, "paddingOuter": 0}}, "x": {"value": 0}},
     "layer": [
       {"data": {"values": [{"line": "rule"}]}, "mark": {"type": "rule", "color": "#2b3a8a", "strokeWidth": 5.5}, "encoding": {"x": null}},
       {"data": {"values": [{"line": "l1", "t": "FIGURE 2."}]},
        "mark": {"type": "text", "align": "left", "font": "Open Sans", "fontSize": 25.5, "color": "#2e3d8f", "dy": 3}, "encoding": {"text": {"field": "t", "type": "nominal"}}},
       {"data": {"values": [{"line": "l1", "t": "Forest plots comparing the radial and femoral techniques regarding the (A) rate of severe bleeding, (B) major adverse"}]},
        "mark": {"type": "text", "align": "left", "font": "Open Sans", "fontSize": 25.5, "color": "#333", "dy": 3, "dx": 124}, "encoding": {"text": {"field": "t", "type": "nominal"}}},
       {"data": {"values": [{"line": "l2", "t": "cardiovascular events, and (C) vascular complications related to the arterial puncture site."}]},
        "mark": {"type": "text", "align": "left", "font": "Open Sans", "fontSize": 25.5, "color": "#333"}, "encoding": {"text": {"field": "t", "type": "nominal"}}}
     ]}
   ]
  }
  ]
 }
 ]
}
]
}
